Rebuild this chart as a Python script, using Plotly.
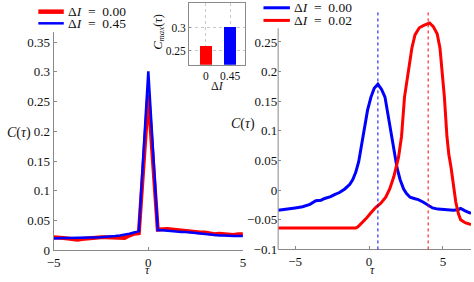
import plotly.graph_objects as go

# ---------------- data ----------------
tau_left = [-5, -4.75, -4.5, -4.25, -4, -3.75, -3.5, -3.25, -3, -2.75, -2.5, -2.25, -2, -1.75,
            -1.5, -1.25, -1, -0.75, -0.5, 0, 0.5, 0.75, 1, 1.25, 1.5, 1.75, 2, 2.25, 2.5, 2.75,
            3, 3.25, 3.5, 3.75, 4, 4.25, 4.5, 4.75, 5]
c_left_red = [0.022, 0.022, 0.021, 0.020, 0.019, 0.018, 0.019, 0.020, 0.021, 0.021, 0.022, 0.022,
              0.022, 0.022, 0.021, 0.021, 0.025, 0.028, 0.029, 0.262, 0.035, 0.036, 0.036, 0.035,
              0.034, 0.033, 0.033, 0.032, 0.031, 0.030, 0.030, 0.028, 0.027, 0.028, 0.027, 0.026,
              0.026, 0.027, 0.027]
c_left_blue = [0.020, 0.021, 0.021, 0.021, 0.021, 0.021, 0.021, 0.022, 0.022, 0.022, 0.022, 0.023,
               0.023, 0.024, 0.025, 0.026, 0.028, 0.030, 0.032, 0.301, 0.034, 0.034, 0.033, 0.033,
               0.032, 0.031, 0.031, 0.030, 0.029, 0.028, 0.027, 0.026, 0.025, 0.025, 0.025, 0.024,
               0.024, 0.024, 0.024]
left_names = ["0.00", "0.45"]

inset_cats = ["0", "0.45"]
inset_cmax = [0.26, 0.30]

tau_right_blue = [-6.15, -5.75, -5.5, -5.0, -4.5, -4.0, -3.6, -3.25, -3.0, -2.6, -2.3, -2.0, -1.64,
                  -1.3, -1.1, -0.9, -0.7, -0.5, -0.3, -0.1, 0.13, 0.35, 0.6, 0.85, 1.08, 1.3, 1.5,
                  1.7, 1.9, 2.1, 2.34, 2.55, 2.78, 3.05, 3.33, 3.65, 4.0, 4.3, 4.66, 5.0, 5.3, 5.7,
                  6.0, 6.2, 6.5, 6.9]
c_right_blue = [-0.034, -0.033, -0.032, -0.030, -0.028, -0.024, -0.018, -0.017, -0.014, -0.011,
                -0.007, -0.004, 0.002, 0.010, 0.018, 0.030, 0.048, 0.075, 0.105, 0.135, 0.157,
                0.172, 0.179, 0.170, 0.157, 0.125, 0.091, 0.062, 0.037, 0.018, 0.002, -0.006,
                -0.012, -0.014, -0.016, -0.020, -0.026, -0.030, -0.032, -0.033, -0.034, -0.034,
                -0.033, -0.031, -0.035, -0.039]
tau_right_red = [-6.15, -5.0, -3.0, -1.5, -0.9, -0.75, -0.5, -0.2, 0.1, 0.46, 0.8, 1.13, 1.4, 1.68,
                 2.0, 2.2, 2.4, 2.67, 2.9, 3.11, 3.4, 3.7, 3.9, 4.1, 4.35, 4.61, 4.8, 4.94, 5.1,
                 5.27, 5.4, 5.54, 5.7, 5.87, 6.05, 6.2, 6.5, 6.9]
c_right_red = [-0.064, -0.064, -0.064, -0.064, -0.064, -0.062, -0.056, -0.048, -0.039, -0.029,
               -0.022, -0.012, 0.002, 0.023, 0.056, 0.091, 0.157, 0.206, 0.240, 0.262, 0.274,
               0.278, 0.280, 0.282, 0.276, 0.264, 0.240, 0.206, 0.157, 0.091, 0.060, 0.040, 0.008,
               -0.020, -0.040, -0.050, -0.055, -0.058]
right_names = ["0.00", "0.02"]
peak_tau = [0.6, 4.0]

left_yticks = [0, 0.05, 0.1, 0.15, 0.2, 0.25, 0.3, 0.35]
left_yticktext = ["0", "0.05", "0.1", "0.15", "0.2", "0.25", "0.3", "0.35"]
right_yticks = [-0.1, -0.05, 0, 0.05, 0.1, 0.15, 0.2, 0.25]
right_yticktext = ["\u22120.1", "\u22120.05", "0", "0.05", "0.1", "0.15", "0.2", "0.25"]
xticks = [-5, 0, 5]
inset_yticks = [0.25, 0.3]

RED = "#ff0000"
BLUE = "#0000ff"
GRAY = "#8a8a8a"
FONT = "'Liberation Serif', 'DejaVu Serif', serif"

W, H = 474, 282
def px(x):
    return x / W
def py(y):
    return 1 - y / H

fig = go.Figure()

# left panel
fig.add_trace(go.Scatter(x=tau_left, y=c_left_red, mode="lines", line=dict(color=RED, width=4),
                         xaxis="x", yaxis="y", showlegend=False))
fig.add_trace(go.Scatter(x=tau_left, y=c_left_blue, mode="lines", line=dict(color=BLUE, width=2.5),
                         xaxis="x", yaxis="y", showlegend=False))
# inset
fig.add_trace(go.Bar(x=inset_cats, y=inset_cmax, marker=dict(color=[RED, BLUE], line=dict(width=0)),
                     width=0.47, xaxis="x3", yaxis="y3", showlegend=False))
# right panel
fig.add_trace(go.Scatter(x=tau_right_blue, y=c_right_blue, mode="lines", line=dict(color=BLUE, width=3),
                         xaxis="x2", yaxis="y2", showlegend=False))
fig.add_trace(go.Scatter(x=tau_right_red, y=c_right_red, mode="lines", line=dict(color=RED, width=3),
                         xaxis="x2", yaxis="y2", showlegend=False))

axcommon = dict(showgrid=False, zeroline=False, ticks="inside", ticklen=3, tickcolor=GRAY,
                linecolor=GRAY, linewidth=1, tickfont=dict(family=FONT, size=13, color="#111"))

fig.update_layout(
    width=W, height=H, margin=dict(l=0, r=0, t=0, b=0),
    paper_bgcolor="white", plot_bgcolor="white",
    font=dict(family=FONT, color="#111"),
    bargap=0,
    xaxis=dict(domain=[px(47.7), px(241)], range=[-5, 5], tickvals=xticks, showline=True,
               anchor="y", **axcommon),
    yaxis=dict(domain=[py(257.7), py(33)], range=[0, 0.367], tickvals=left_yticks,
               ticktext=left_yticktext, showline=True, anchor="x", **axcommon),
    xaxis2=dict(domain=[px(277), 1.0], range=[-6.15, 6.9], tickvals=xticks, showline=True,
                anchor="y2", **axcommon),
    yaxis2=dict(domain=[py(256.7), py(256.7) + 245.2 / H], range=[-0.1, 0.302],
                tickvals=right_yticks, ticktext=right_yticktext, showline=False, anchor="x2",
                **axcommon),
    xaxis3=dict(domain=[px(186), px(242.7)], type="category", range=[-0.7, 1.6], anchor="y3",
                showline=True, mirror=True, linecolor=GRAY, ticks="", showgrid=True,
                gridcolor="#c8c8c8", griddash="dot", zeroline=False,
                tickfont=dict(family=FONT, size=11.5, color="#111")),
    yaxis3=dict(domain=[py(66.7), py(3.3)], range=[0.22, 0.352], tickvals=inset_yticks,
                anchor="x3", showline=True, mirror=True, linecolor=GRAY, ticks="inside",
                ticklen=2, tickcolor=GRAY, showgrid=True, gridcolor="#c8c8c8", griddash="dot",
                zeroline=False, tickfont=dict(family=FONT, size=11.5, color="#111")),
)

shapes = []
# right panel y axis line (stops short of top, as in reference)
shapes.append(dict(type="line", xref="paper", yref="y2", x0=px(277), x1=px(277), y0=-0.1, y1=0.273,
                   line=dict(color=GRAY, width=1)))
# vertical dotted peak markers
for t, c in zip(peak_tau, [BLUE, RED]):
    shapes.append(dict(type="line", xref="x2", yref="paper", x0=t, x1=t, y0=py(256.7), y1=py(12),
                       line=dict(color=c, width=1, dash="dot")))

# manual legends
def leg_text(v):
    return "\u0394<i>I</i>\u2002=\u2002" + v

annotations = []
left_leg = [(RED, 4.5, left_names[0], 12), (BLUE, 2.5, left_names[1], 24)]
for col, w, name, yy in left_leg:
    shapes.append(dict(type="line", xref="paper", yref="paper", x0=px(32), x1=px(58), y0=py(yy), y1=py(yy),
                       line=dict(color=col, width=w)))
    annotations.append(dict(x=px(60), y=py(yy), xref="paper", yref="paper", text=leg_text(name),
                            showarrow=False, xanchor="left", yanchor="middle",
                            font=dict(family=FONT, size=13.5, color="#111")))
right_leg = [(BLUE, 3, right_names[0], 8), (RED, 3, right_names[1], 21)]
for col, w, name, yy in right_leg:
    shapes.append(dict(type="line", xref="paper", yref="paper", x0=px(262), x1=px(289), y0=py(yy), y1=py(yy),
                       line=dict(color=col, width=w)))
    annotations.append(dict(x=px(291), y=py(yy), xref="paper", yref="paper", text=leg_text(name),
                            showarrow=False, xanchor="left", yanchor="middle",
                            font=dict(family=FONT, size=13.5, color="#111")))

# axis labels
lab = dict(xref="paper", yref="paper", showarrow=False, xanchor="center", yanchor="middle",
           font=dict(family=FONT, size=14, color="#111"))
tlab = dict(xref="paper", yref="paper", showarrow=False, xanchor="center", yanchor="middle",
            font=dict(family=FONT, size=12, color="#111"))
annotations += [
    dict(x=px(12), y=py(137), text="<i>C</i>(<i>\u03c4</i>)", **lab),
    dict(x=px(241), y=py(128), text="<i>C</i>(<i>\u03c4</i>)", **lab),
    dict(x=px(144), y=py(277.5), text="<i>\u03c4</i>", **tlab),
    dict(x=px(373.7), y=py(277.5), text="<i>\u03c4</i>", **tlab),
    dict(x=px(215), y=py(88), text="\u0394<i>I</i>", **tlab),
    dict(x=px(155), y=py(33), text="<i>C</i><sub><i>max</i></sub>(<i>\u03c4</i>)", textangle=-90,
         xref="paper", yref="paper", showarrow=False, xanchor="center", yanchor="middle",
         font=dict(family=FONT, size=12.5, color="#111")),
]

fig.update_layout(shapes=shapes, annotations=annotations)
fig.write_html("out.html")
